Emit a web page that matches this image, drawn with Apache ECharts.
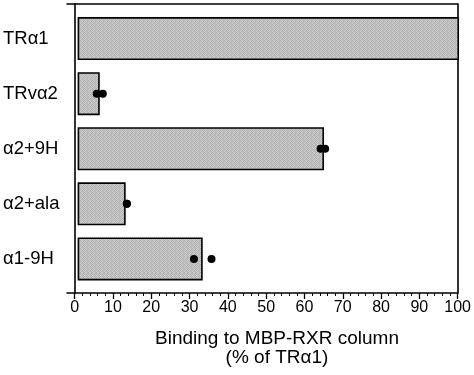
<!DOCTYPE html>
<html>
<head>
<meta charset="utf-8">
<script src="https://cdn.jsdelivr.net/npm/echarts@6/dist/echarts.min.js"></script>
<style>html,body{margin:0;padding:0;background:#fff}#c{width:474px;height:375px}</style>
</head>
<body>
<div id="c"></div>
<script>
// ---- data ----
const categories = ['TRα1', 'TRvα2', 'α2+9H', 'α2+ala', 'α1-9H'];
const bindingPercent = [100, 5.8, 64.6, 12.6, 32.8];
const replicateA = [null, 5.0, 63.7, 12.9, 30.5];
const replicateB = [null, 6.6, 64.9, 12.9, 35.1];
const majorTickValues = [0, 10, 20, 30, 40, 50, 60, 70, 80, 90, 100];
const minorTickStep = 2;

const minorTickValues = [];
for (let v = 0; v <= 100; v += minorTickStep) minorTickValues.push(v);

const scatterData = [];
categories.forEach((c, i) => {
  if (replicateA[i] != null) scatterData.push([replicateA[i], c]);
  if (replicateB[i] != null) scatterData.push([replicateB[i], c]);
});

// stipple texture for bars
const pat = document.createElement('canvas');
pat.width = 4; pat.height = 4;
const pctx = pat.getContext('2d');
const shades = [
  ['#aaaaaa','#d2d2d2','#bcbcbc','#c4c4c4'],
  ['#c8c8c8','#b4b4b4','#d4d4d4','#a8a8a8'],
  ['#bababa','#cecece','#a6a6a6','#cccccc'],
  ['#d0d0d0','#b0b0b0','#c6c6c6','#b6b6b6']
];
for (let y = 0; y < 4; y++) for (let x = 0; x < 4; x++) { pctx.fillStyle = shades[y][x]; pctx.fillRect(x, y, 1, 1); }

const chart = echarts.init(document.getElementById('c'), null, {renderer: 'canvas'});
const font = '"Liberation Sans", Arial, Helvetica, sans-serif';
const line = {show: true, lineStyle: {color: '#000', width: 1.6}};
const XMIN = -2, XMAX = 100;

chart.setOption({
  animation: false,
  backgroundColor: '#fff',
  title: {
    text: 'Binding to MBP-RXR column\n(% of TRα1)',
    left: 272, top: 324, textAlign: 'center',
    textStyle: {fontFamily: font, fontSize: 19, fontWeight: 'normal', color: '#000', lineHeight: 19.5}
  },
  grid: [
    {left: 67, right: 15, top: 4, bottom: 82},
    {left: 67, right: 15, top: 11, bottom: 88.5}
  ],
  xAxis: [
    {
      gridIndex: 0, type: 'value', position: 'bottom', min: XMIN, max: XMAX,
      axisLine: Object.assign({onZero: false}, line),
      axisTick: {show: true, customValues: majorTickValues, length: 6, lineStyle: {color: '#000', width: 1.3}},
      axisLabel: {customValues: majorTickValues, color: '#000', fontFamily: font, fontSize: 16, margin: 7},
      splitLine: {show: false}
    },
    {
      gridIndex: 0, type: 'value', position: 'bottom', min: XMIN, max: XMAX,
      axisLine: {show: false, onZero: false},
      axisTick: {show: true, customValues: minorTickValues, length: 3, lineStyle: {color: '#000', width: 1}},
      axisLabel: {show: false},
      splitLine: {show: false}
    },
    {
      gridIndex: 0, type: 'value', position: 'top', min: XMIN, max: XMAX,
      axisLine: Object.assign({onZero: false}, line),
      axisTick: {show: false}, axisLabel: {show: false}, splitLine: {show: false}
    },
    {
      gridIndex: 1, type: 'value', min: XMIN, max: XMAX, show: false
    }
  ],
  yAxis: [
    {
      gridIndex: 0, type: 'value', min: 0, max: 1,
      axisLine: Object.assign({onZero: true, onZeroAxisIndex: 0}, line),
      axisTick: {show: false}, axisLabel: {show: false}, splitLine: {show: false}
    },
    {
      gridIndex: 0, type: 'value', position: 'right', min: 0, max: 1,
      axisLine: Object.assign({onZero: false}, line),
      axisTick: {show: false}, axisLabel: {show: false}, splitLine: {show: false}
    },
    {
      gridIndex: 1, type: 'category', data: categories, inverse: true,
      axisLine: {show: false, onZero: false}, axisTick: {show: false},
      axisLabel: {align: 'left', margin: 67, color: '#000', fontFamily: font, fontSize: 18.5}
    }
  ],
  series: [
    {
      type: 'bar', xAxisIndex: 3, yAxisIndex: 2,
      data: bindingPercent, barWidth: 43,
      itemStyle: {color: {image: pat, repeat: 'repeat'}, borderColor: '#000', borderWidth: 1.6}
    },
    {
      type: 'scatter', xAxisIndex: 3, yAxisIndex: 2,
      data: scatterData, symbol: 'circle', symbolSize: 8,
      itemStyle: {color: '#000', opacity: 1}, z: 5
    }
  ]
});
</script>
</body>
</html>
